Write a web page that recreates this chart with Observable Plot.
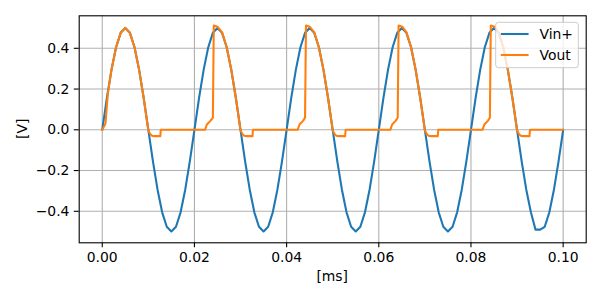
<!DOCTYPE html>
<html><head><meta charset="utf-8">
<script src="https://cdn.jsdelivr.net/npm/d3@7"></script>
<script src="https://cdn.jsdelivr.net/npm/@observablehq/plot@0.6"></script>
<style>body{margin:0;background:#fff;} #chart{width:600px;height:300px;}</style>
</head><body><div id="chart"></div>
<script>
// Vin+ samples [ms], [V]
const vinT = [0,0.001,0.002,0.003,0.004,0.005,0.006,0.007,0.008,0.009,
0.010,0.011,0.012,0.013,0.014,0.015,0.016,0.017,0.018,0.019,
0.020,0.021,0.022,0.023,0.024,0.025,0.026,0.027,0.028,0.029,
0.030,0.031,0.032,0.033,0.034,0.035,0.036,0.037,0.038,0.039,
0.040,0.041,0.042,0.043,0.044,0.045,0.046,0.047,0.048,0.049,
0.050,0.051,0.052,0.053,0.054,0.055,0.056,0.057,0.058,0.059,
0.060,0.061,0.062,0.063,0.064,0.065,0.066,0.067,0.068,0.069,
0.070,0.071,0.072,0.073,0.074,0.075,0.076,0.077,0.078,0.079,
0.080,0.081,0.082,0.083,0.084,0.085,0.086,0.087,0.088,0.089,
0.090,0.091,0.092,0.093,0.094,0.095,0.096,0.097,0.098,0.099,0.100];
const vinV = [0,0.155,0.294,0.405,0.476,0.5,0.476,0.405,0.294,0.155,
0,-0.155,-0.294,-0.405,-0.476,-0.499,-0.476,-0.405,-0.294,-0.155,
0,0.155,0.294,0.405,0.476,0.5,0.476,0.405,0.294,0.155,
0,-0.155,-0.294,-0.405,-0.476,-0.499,-0.476,-0.405,-0.294,-0.155,
0,0.155,0.294,0.405,0.476,0.5,0.476,0.405,0.294,0.155,
0,-0.155,-0.294,-0.405,-0.476,-0.499,-0.476,-0.405,-0.294,-0.155,
0,0.155,0.294,0.405,0.476,0.5,0.476,0.405,0.294,0.155,
0,-0.155,-0.294,-0.405,-0.476,-0.499,-0.476,-0.405,-0.294,-0.155,
0,0.155,0.294,0.405,0.476,0.5,0.476,0.405,0.294,0.155,
0,-0.155,-0.294,-0.405,-0.49,-0.49,-0.476,-0.405,-0.294,-0.155,0];

// Vout samples [ms], [V]
const voutT = [0,0.0007,0.0012,0.002,0.003,0.004,0.005,0.006,0.007,0.008,0.009,
0.0100,0.0104,0.0108,0.0113,0.0126,0.0127,
0.0223,0.0227,0.0235,0.0240,0.0242,0.0250,0.026,0.027,0.028,0.029,
0.0300,0.0304,0.0308,0.0313,0.0326,0.0327,
0.0424,0.0428,0.0436,0.0440,0.0442,0.0450,0.046,0.047,0.048,0.049,
0.0500,0.0504,0.0508,0.0513,0.0527,0.0528,
0.0625,0.0629,0.0637,0.0641,0.0643,0.0651,0.066,0.067,0.068,0.069,
0.0700,0.0704,0.0708,0.0713,0.0728,0.0729,
0.0825,0.0829,0.0837,0.0841,0.0843,0.0851,0.086,0.087,0.088,0.089,
0.0900,0.0904,0.0908,0.0913,0.0927,0.0928,0.1000];
const voutV = [0,0.03,0.175,0.294,0.405,0.476,0.5,0.476,0.405,0.294,0.155,
-0.003,-0.02,-0.029,-0.031,-0.031,0,
0,0.026,0.045,0.059,0.512,0.506,0.478,0.405,0.294,0.155,
-0.003,-0.02,-0.029,-0.031,-0.031,0,
0,0.026,0.045,0.059,0.512,0.506,0.478,0.405,0.294,0.155,
-0.003,-0.02,-0.029,-0.031,-0.031,0,
0,0.026,0.045,0.059,0.512,0.506,0.478,0.405,0.294,0.155,
-0.003,-0.02,-0.029,-0.031,-0.031,0,
0,0.026,0.045,0.059,0.512,0.506,0.478,0.405,0.294,0.155,
-0.003,-0.02,-0.029,-0.031,-0.031,0,0];

const xTicks = [0, 0.02, 0.04, 0.06, 0.08, 0.10];
const yTicks = [-0.4, -0.2, 0, 0.2, 0.4];
const seriesNames = ["Vin+", "Vout"];
const seriesColors = ["#1f77b4", "#ff7f0e"];
const xLabel = "[ms]";
const yLabel = "[V]";

const vin = vinT.map((t, i) => ({t, v: vinV[i]}));
const vout = voutT.map((t, i) => ({t, v: voutV[i]}));

const font = "'DejaVu Sans', sans-serif";
const fs = 13.9;
const lw = 2.08;

const chart = Plot.plot({
  width: 600, height: 300,
  marginLeft: 78.7, marginRight: 14.3, marginTop: 15.3, marginBottom: 57.7,
  style: {fontFamily: font, fontSize: fs + "px", background: "#fff", color: "#000"},
  x: {domain: [-0.005, 0.105]},
  y: {domain: [-0.5546, 0.5595]},
  marks: [
    Plot.gridX(xTicks, {stroke: "#b0b0b0", strokeOpacity: 1, strokeWidth: 1.1}),
    Plot.gridY(yTicks, {stroke: "#b0b0b0", strokeOpacity: 1, strokeWidth: 1.1}),
    Plot.line(vin, {x: "t", y: "v", stroke: seriesColors[0], strokeWidth: lw}),
    Plot.line(vout, {x: "t", y: "v", stroke: seriesColors[1], strokeWidth: lw}),
    Plot.frame({stroke: "#000", strokeWidth: 1.1}),
    Plot.axisX(xTicks, {tickSize: 4.9, tickPadding: 4.9, tickFormat: d3.format(".2f"), label: null, fontSize: fs, strokeWidth: 1.1}),
    Plot.axisY(yTicks, {tickSize: 4.9, tickPadding: 4.9, tickFormat: d3.format(".1f"), label: null, fontSize: fs, strokeWidth: 1.1})
  ]
});

const svg = d3.select(chart);
svg.append("text").attr("x", 332.2).attr("y", 281).attr("text-anchor", "middle")
  .attr("font-family", font).attr("font-size", fs).attr("fill", "#000").text(xLabel);
svg.append("text").attr("transform", "translate(26.5,128.8) rotate(-90)").attr("text-anchor", "middle")
  .attr("font-family", font).attr("font-size", fs).attr("fill", "#000").text(yLabel);

// legend
const lg = svg.append("g");
lg.append("rect").attr("x", 495.7).attr("y", 22.3).attr("width", 82.6).attr("height", 45.4)
  .attr("rx", 2.8).attr("fill", "#fff").attr("fill-opacity", 0.8).attr("stroke", "#cccccc").attr("stroke-width", 1);
seriesNames.forEach((name, i) => {
  const yy = 34 + i * 21;
  lg.append("line").attr("x1", 500.8).attr("x2", 528.6).attr("y1", yy).attr("y2", yy)
    .attr("stroke", seriesColors[i]).attr("stroke-width", lw);
  lg.append("text").attr("x", 539.5).attr("y", yy + 4.5).attr("text-anchor", "start")
    .attr("font-family", font).attr("font-size", fs).attr("fill", "#000").text(name);
});

document.getElementById("chart").appendChild(chart);
</script>
</body></html>
